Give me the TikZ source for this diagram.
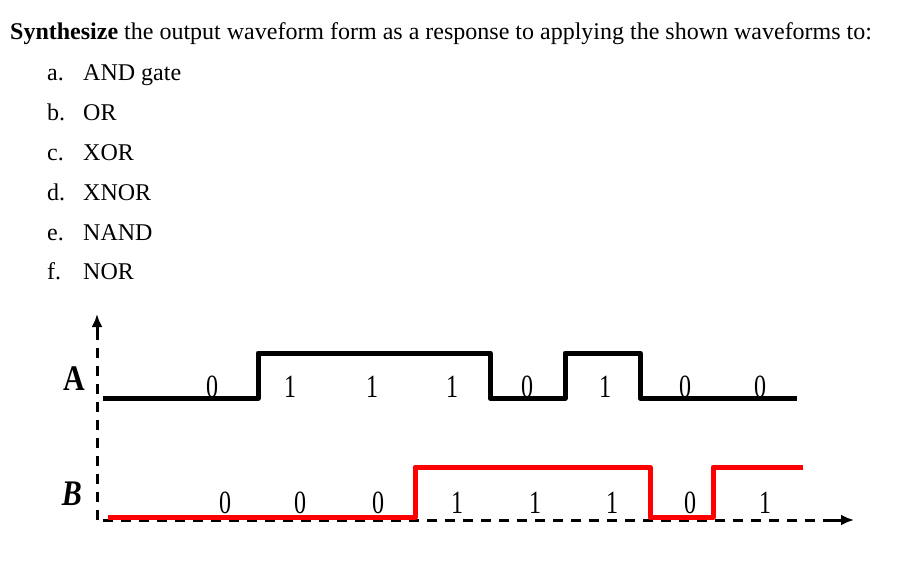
\documentclass[tikz,border=0pt]{standalone}
\usepackage{fontspec}
\setmainfont{Liberation Serif}
\usetikzlibrary{arrows.meta}
\begin{document}
\begin{tikzpicture}[x=1pt,y=-1pt,
  txt/.style={anchor=base west,inner sep=0,font=\fontsize{24}{26}\selectfont},
  dig/.style={anchor=base,inner sep=0,yscale=1.35,font=\fontsize{24}{26}\selectfont},
  wave/.style={line width=5pt},
  axis/.style={line width=3pt,dash pattern=on 10pt off 8pt}]
\useasboundingbox[fill=white] (0,0) rectangle (901,586);
\node[txt] (t) at (10,40) {\textbf{Synthesize} the output waveform form as a response to applying the shown waveforms to:};
\foreach \l/\s/\y in {a./AND gate/80,b./OR/120,c./XOR/160,d./XNOR/200,e./NAND/240,f./NOR/279}{
  \node[txt] at (47,\y) {\l};
  \node[txt] at (83,\y) {\s};
}
\coordinate (o) at (97,520);
\coordinate (top) at (97,314);
\coordinate (right) at (854,520);
\draw[axis] (o) -- (97,335);
\draw[-{Latex[length=13pt,width=11pt]},line width=3pt] (97,340) -- (top);
\draw[axis] (103,520) -- (835,520);
\draw[-{Latex[length=13pt,width=11pt]},line width=3pt] (830,520) -- (right);
\node[anchor=base,inner sep=0,yscale=1.2,font=\fontsize{30}{32}\selectfont\bfseries] (A) at (74,390) {A};
\node[anchor=base,inner sep=0,yscale=1.2,font=\fontsize{30}{32}\selectfont\bfseries\itshape] (B) at (72,505) {B};
\draw[wave,line join=round] (103,398) -- (258,398) -- (258,353) -- (490,353) -- (490,398) -- (565,398) -- (565,353) -- (640,353) -- (640,398) -- (797,398);
\draw[wave,red,line join=round] (108,517) -- (415,517) -- (415,467) -- (650,467) -- (650,517) -- (713,517) -- (713,467) -- (803,467);
\foreach \x/\d in {212/0,290/1,372/1,452/1,527/0,605/1,685/0,760/0}
  \node[dig] at (\x,397) {\d};
\foreach \x/\d in {225/0,300/0,378/0,457/1,535/1,612/1,690/0,765/1}
  \node[dig] at (\x,513) {\d};
\end{tikzpicture}
\end{document}
